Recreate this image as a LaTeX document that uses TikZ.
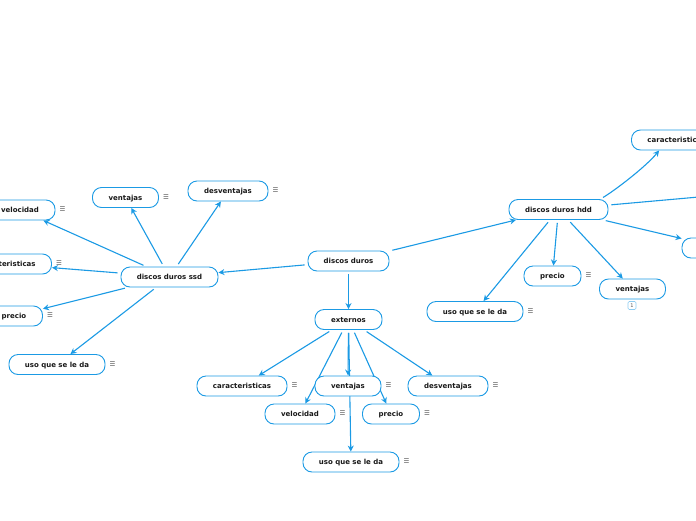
\documentclass[tikz,border=0pt]{standalone}
\usepackage{fontspec}
\setmainfont{DejaVu Sans}
\usetikzlibrary{arrows.meta,backgrounds}
\definecolor{mapblue}{HTML}{1B9AE4}
\definecolor{menugray}{HTML}{555555}
\tikzstyle{cn}=[shape=rectangle,rounded corners=9pt,draw=mapblue,fill=white,line width=0.9pt,minimum height=20pt,inner xsep=0pt,inner ysep=0pt,text height=5pt,text depth=0pt,font=\fontsize{7}{8}\selectfont\bfseries,text=black!90]
\tikzstyle{menu}=[font=\fontsize{6.5}{8}\selectfont,text=menugray,inner sep=0pt,xshift=4pt,yshift=0.5pt]
\tikzstyle{cnm}=[cn,label={[menu]right:☰}]
\tikzstyle{to}=[-{Stealth[length=6pt,width=6pt]},draw=mapblue,line width=1.1pt,shorten <=3pt]
\begin{document}
\begin{tikzpicture}[x=1pt,y=-1pt]
            \useasboundingbox (0,0) rectangle (696,520);
            \clip (0,0) rectangle (696,520);
            \node[cn,minimum width=81pt] (duros) at (348.5,261) {discos duros};
            \node[cn,minimum width=97pt] (ssd) at (169.5,277) {discos duros ssd};
            \node[cn,minimum width=99pt] (hdd) at (558.5,209.5) {discos duros hdd};
            \node[cn,minimum width=67pt] (externos) at (348.5,319.5) {externos};
            % ssd
            \node[cnm,minimum width=66pt] (ssdventajas) at (125.5,197.5) {ventajas};
            \node[cnm,minimum width=80pt] (ssddesv) at (228,191) {desventajas};
            \node[cnm,minimum width=70pt] (ssdvel) at (20,210) {velocidad};
            \node[cnm,minimum width=90pt] (ssdcar) at (6.5,264) {caracteristicas};
            \node[cnm,minimum width=57pt] (ssdprecio) at (14,316) {precio};
            \node[cnm,minimum width=96pt] (ssduso) at (57,364.5) {uso que se le da};
            % externos
            \node[cnm,minimum width=90pt] (extcar) at (242,386) {caracteristicas};
            \node[cnm,minimum width=66pt] (extventajas) at (348,386) {ventajas};
            \node[cnm,minimum width=80pt] (extdesv) at (448,386) {desventajas};
            \node[cnm,minimum width=70pt] (extvel) at (300,414) {velocidad};
            \node[cnm,minimum width=57pt] (extprecio) at (391,414) {precio};
            \node[cnm,minimum width=96pt] (extuso) at (351,462) {uso que se le da};
            % hdd
            \node[cnm,minimum width=96pt] (hdduso) at (475,311.5) {uso que se le da};
            \node[cnm,minimum width=57pt] (hddprecio) at (552.5,276) {precio};
            \node[cn,minimum width=66pt] (hddventajas) at (632.5,289) {ventajas};
            \node[draw=mapblue!50,rounded corners=1.2pt,line width=0.6pt,minimum size=8pt,inner sep=0pt,font=\fontsize{5}{5}\selectfont,text=menugray] (badge) at (632,305.5) {1};
            \node[cn,minimum width=90pt] (hddcar) at (676.5,140) {caracteristicas};
            \node[cn,minimum width=80pt] (hddotro) at (722,248) {};
            \coordinate (hddfuera) at (710,196);
            \begin{pgfonlayer}{background}
            \draw[to] (duros) -- (ssd);
            \draw[to] (duros) -- (hdd);
            \draw[to] (duros) -- (externos);
            \draw[to] (ssd) -- (ssdventajas);
            \draw[to] (ssd) -- (ssddesv);
            \draw[to] (ssd) -- (ssdvel);
            \draw[to] (ssd) -- (ssdcar);
            \draw[to] (ssd) -- (ssdprecio);
            \draw[to] (ssd) -- (ssduso);
            \draw[to] (externos) -- (extcar);
            \draw[to] (externos) -- (extventajas);
            \draw[to] (externos) -- (extdesv);
            \draw[to] (externos) -- (extvel);
            \draw[to] (externos) -- (extprecio);
            \draw[to] (externos) -- (extuso);
            \draw[to] (hdd) -- (hdduso);
            \draw[to] (hdd) -- (hddprecio);
            \draw[to] (hdd) -- (hddventajas);
            \draw[to] (hdd) -- (hddotro);
            \draw[to] (hdd) -- (hddfuera);
            \draw[to] (hdd.14) .. controls +(15,-9) and +(-13,16) .. (hddcar.211);
            \end{pgfonlayer}
        \end{tikzpicture}
\end{document}
